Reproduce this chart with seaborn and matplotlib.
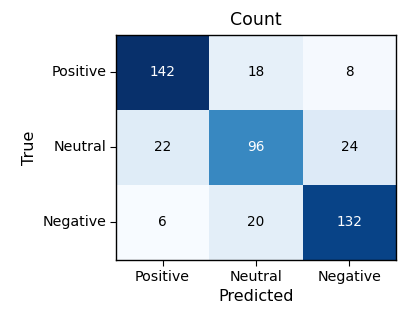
import matplotlib
matplotlib.use("Agg")
import matplotlib.pyplot as plt
import numpy as np
import pandas as pd
import seaborn as sns

labels = ["Positive", "Neutral", "Negative"]
counts_positive = [142, 18, 8]
counts_neutral = [22, 96, 24]
counts_negative = [6, 20, 132]

df = pd.DataFrame(
    [counts_positive, counts_neutral, counts_negative], index=labels, columns=labels
)

fig = plt.figure(figsize=(4.08, 3.23), dpi=100)
ax = fig.add_axes([0.284, 0.195, 0.687, 0.697])
sns.heatmap(
    df,
    annot=True,
    fmt="d",
    cmap="Blues",
    cbar=False,
    ax=ax,
    annot_kws={"fontsize": 9.8},
)
# seaborn uses a dark grey for light cells; the reference uses plain black
for txt in ax.texts:
    if txt.get_color() != "w":
        txt.set_color("black")
for spine in ax.spines.values():
    spine.set_visible(True)
    spine.set_color("black")
    spine.set_linewidth(1.0)
ax.tick_params(axis="both", length=4, width=0.8, labelsize=10.3, pad=3)
ax.set_yticklabels(labels, rotation=0)
ax.set_xticklabels(labels, rotation=0)
ax.set_title("Count", fontsize=12.5, pad=7)
ax.set_xlabel("Predicted", fontsize=11.5)
ax.set_ylabel("True", fontsize=11.5)

fig.savefig("out.png", dpi=100)
